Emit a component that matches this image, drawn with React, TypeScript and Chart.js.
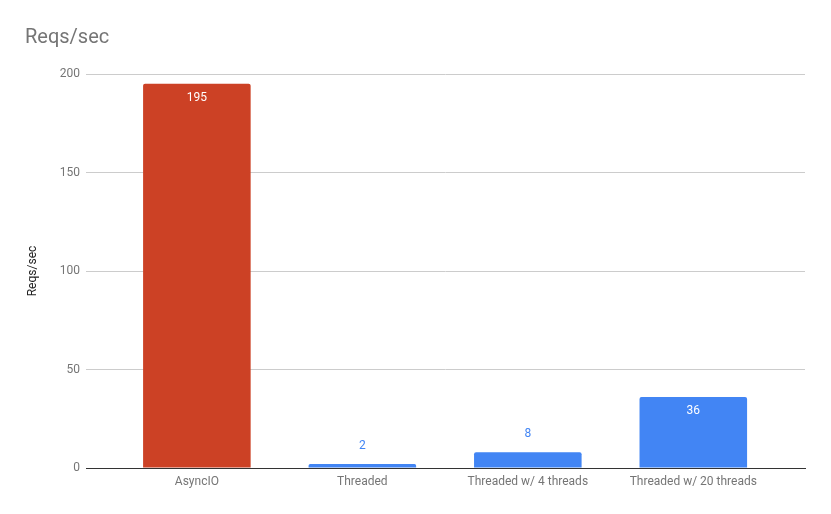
import React, { useEffect, useRef } from "react";
import { Chart, registerables } from "chart.js";

Chart.register(...registerables);

const categories = ["AsyncIO", "Threaded", "Threaded w/ 4 threads", "Threaded w/ 20 threads"];
const reqsPerSec = [195, 2, 8, 36];
const barColors = ["#cc4125", "#4285f4", "#4285f4", "#4285f4"];
const yTicks = [0, 50, 100, 150, 200];

const FONT = "Roboto, 'Noto Sans', sans-serif";

const valueLabels = {
  id: "valueLabels",
  afterDatasetsDraw(chart: any) {
    const ctx = chart.ctx;
    const meta = chart.getDatasetMeta(0);
    ctx.save();
    ctx.font = `12px ${FONT}`;
    ctx.textAlign = "center";
    ctx.textBaseline = "middle";
    meta.data.forEach((bar: any, i: number) => {
      const v = reqsPerSec[i];
      const h = bar.base - bar.y;
      if (h > 30) {
        ctx.fillStyle = "#ffffff";
        ctx.fillText(String(v), bar.x, bar.y + 14);
      } else {
        ctx.fillStyle = "#4285f4";
        ctx.fillText(String(v), bar.x, bar.y - 18);
      }
    });
    ctx.restore();
  },
};

export default function App() {
  const ref = useRef<HTMLCanvasElement | null>(null);
  useEffect(() => {
    document.body.style.margin = "0";
    const chart = new Chart(ref.current as HTMLCanvasElement, {
      type: "bar",
      data: {
        datasets: [
          {
            label: "Reqs/sec",
            data: reqsPerSec.map((v, i) => ({ x: i, y: v })),
            backgroundColor: barColors,
            borderRadius: { topLeft: 2, topRight: 2, bottomLeft: 0, bottomRight: 0 },
            borderSkipped: "bottom",
            categoryPercentage: 1,
            barPercentage: 0.65,
          },
        ],
      },
      options: {
        animation: false,
        responsive: false,
        maintainAspectRatio: false,
        layout: { padding: { left: 25, right: 26, top: 0, bottom: 0 } },
        plugins: {
          legend: { display: false },
          tooltip: { enabled: false },
          title: {
            display: true,
            text: "Reqs/sec",
            align: "start",
            color: "#757575",
            font: { family: FONT, size: 20, weight: "normal" },
            padding: { top: 26, bottom: 24 },
          },
        },
        scales: {
          x: {
            type: "linear",
            min: -0.67,
            max: 3.675,
            offset: false,
            afterBuildTicks(scale: any) {
              scale.ticks = categories.map((_, i) => ({ value: i }));
            },
            grid: { display: false, drawTicks: false },
            border: { display: true, color: "#333333", width: 1 },
            ticks: {
              color: "#757575",
              font: { family: FONT, size: 12 },
              padding: 7,
              maxRotation: 0,
              autoSkip: false,
              callback: (v: any) => categories[v] ?? "",
            },
            afterFit(scale: any) {
              scale.height = 46;
            },
          },
          y: {
            min: 0,
            max: 200,
            afterBuildTicks(scale: any) {
              scale.ticks = yTicks.map((v) => ({ value: v }));
            },
            grid: { color: "#cccccc", drawTicks: false },
            border: { display: false },
            ticks: {
              color: "#757575",
              font: { family: FONT, size: 12 },
              padding: 6,
            },
            title: {
              display: true,
              text: "Reqs/sec",
              color: "#222222",
              font: { family: FONT, size: 12 },
              padding: { top: 1, bottom: 0 },
            },
            afterFit(scale: any) {
              scale.width = 61;
            },
          },
        },
      } as any,
      plugins: [valueLabels],
    });
    return () => chart.destroy();
  }, []);
  return (
    <div style={{ width: 831, height: 514, background: "#fff" }}>
      <canvas ref={ref} width={831} height={514} style={{ width: 831, height: 514 }} />
    </div>
  );
}
